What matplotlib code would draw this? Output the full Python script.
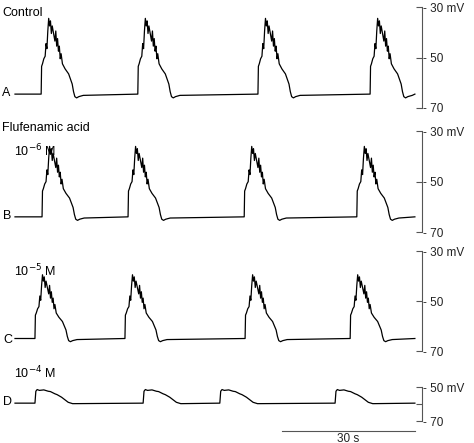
import numpy as np
import matplotlib
matplotlib.use('Agg')
import matplotlib.pyplot as plt

plt.rcParams['font.family'] = ['Liberation Sans', 'DejaVu Sans']

# burst shapes: time from onset (s), membrane potential (mV)
burst_t = [0, 0.1, 0.3, 0.6, 0.9, 1.1, 1.3, 1.5, 1.7, 1.9, 2.1, 2.3, 2.5, 2.7, 2.9, 3.1, 3.3, 3.5,
           3.7, 3.9, 4.1, 4.3, 4.5, 4.8, 5.1, 5.4, 5.8, 6.2, 6.6, 7.0, 7.3, 7.6, 8.0, 8.5, 9.5]
burst_v = [0, 11, 12, 14, 15, 20, 18, 25, 30, 27, 29, 24, 27, 25, 23, 21, 25, 19,
           22, 17, 19, 14, 16, 12, 11, 10, 9, 8, 6, 4, 1, -1, -1.5, -1, -0.5]
d_t = [0, 0.2, 0.5, 1.0, 2.0, 3.0, 3.5, 4.5, 5.0, 6.0, 6.5, 7.5, 8.5]
d_v = [0, 7, 8, 7.5, 7.8, 7, 6.8, 5.5, 5, 3.5, 2.5, 0.5, -0.3]

onsets = {'A': [5.9, 27.7, 54.8, 80.1], 'B': [6.1, 25.5, 51.7, 77.1],
          'C': [4.5, 24.8, 51.9, 75.6], 'D': [4.5, 28.9, 46.2, 72.2]}
baseline = {'A': -64.5, 'B': -64, 'C': -65, 'D': -59.5}
amp = {'A': 1.0, 'B': 0.93, 'C': 0.85, 'D': 1.0}
t_end = 90.2

# panel y-extent in pixels (top tick, bottom tick) and tick values
panels = {'A': (7, 108, -30, -70), 'B': (131, 232, -30, -70),
          'C': (251, 351, -30, -70), 'D': (387, 421, -50, -70)}

W, H = 474, 443
fig = plt.figure(figsize=(W / 100, H / 100), dpi=100)
x0, x1 = 15, 422
xmax = (x1 - x0) * 30 / 133

axes = {}
for k, (ytop, ybot, vtop, vbot) in panels.items():
    ax = fig.add_axes([x0 / W, 1 - ybot / H, (x1 - x0) / W, (ybot - ytop) / H])
    ax.set_xlim(0, xmax)
    ax.set_ylim(vbot, vtop)
    ts, vs = [0], [baseline[k]]
    shape_t, shape_v = (d_t, d_v) if k == 'D' else (burst_t, burst_v)
    for on in onsets[k]:
        ts += [on + t for t in shape_t]
        vs += [baseline[k] + amp[k] * v for v in shape_v]
    ts.append(t_end)
    vs.append(baseline[k])
    ax.plot(ts, vs, color='black', lw=0.9, clip_on=False)
    for s in ['top', 'left', 'bottom']:
        ax.spines[s].set_visible(False)
    ax.spines['right'].set_color('#555555')
    ax.spines['right'].set_linewidth(0.8)
    ax.set_xticks([])
    ax.yaxis.tick_right()
    mid = (vtop + vbot) / 2
    ax.set_yticks([vtop, mid, vbot])
    ax.set_yticklabels([f'- {abs(vtop)} mV', f'- {abs(int(mid))}' if k != 'D' else '', f'- {abs(vbot)}'])
    ax.tick_params(axis='y', direction='in', length=4, width=0.8, color='#555555',
                   labelsize=8.5, pad=1, labelcolor='#222222')
    axes[k] = ax

# scale bar on D
axD = axes['D']
axD.plot([60.2, 90.2], [-75.9, -75.9], color='#555555', lw=0.8, clip_on=False)
axD.text(75.2, -76.8, '30 s', ha='center', va='top', fontsize=8.5, color='#222222')

def ftxt(x, y, s, **kw):
    fig.text(x / W, 1 - y / H, s, fontsize=9, va='center', **kw)

ftxt(2, 13, 'Control')
ftxt(2, 93, 'A')
ftxt(2, 128, 'Flufenamic acid')
ftxt(14, 151, r'10$^{-6}$ M')
ftxt(3, 216, 'B')
ftxt(14, 271, r'10$^{-5}$ M')
ftxt(3, 340, 'C')
ftxt(14, 373, r'10$^{-4}$ M')
ftxt(3, 402, 'D')

fig.savefig('out.png', dpi=100)
